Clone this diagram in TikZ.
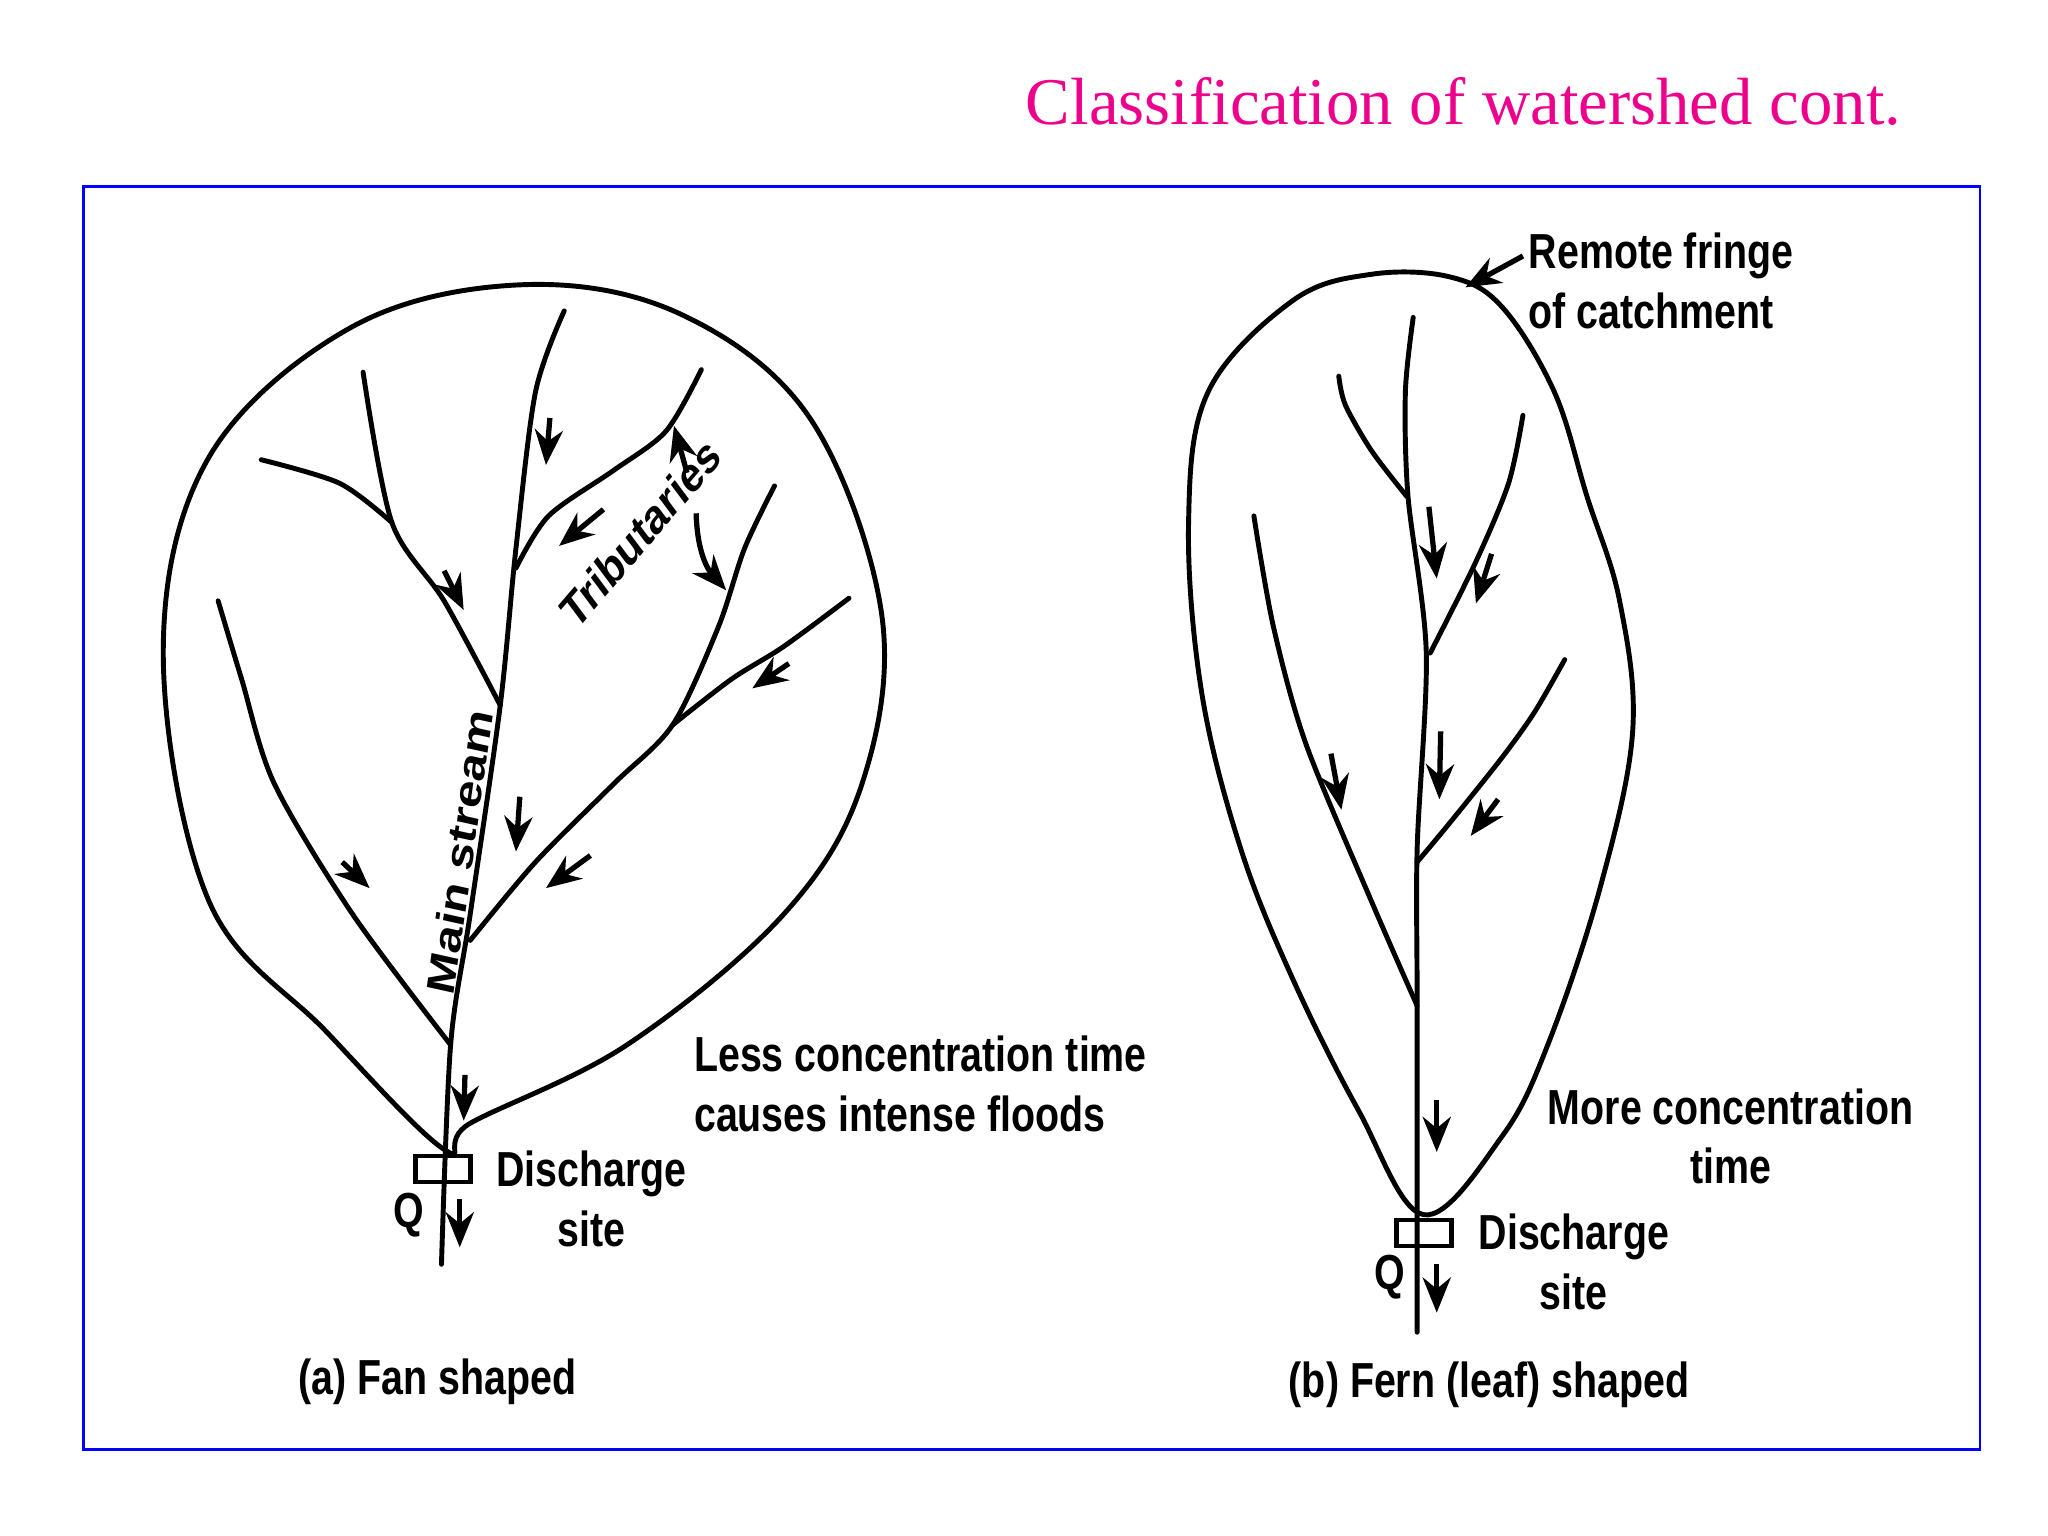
\documentclass[tikz,border=0pt]{standalone}
\usepackage{fontspec}
\setmainfont{Liberation Serif}
\newfontfamily\lblfont{Liberation Sans}
\usetikzlibrary{arrows.meta,positioning}
\tikzset{
  edge/.style={line width=1.4pt, line join=round, line cap=round},
  flow/.style={line width=1.5pt, -{Stealth[length=10pt,width=8pt]}},
  lbl/.style={font=\lblfont\bfseries\fontsize{14}{17}\selectfont, xscale=0.8, inner sep=0pt},
  site/.style={draw, line width=1.4pt, minimum width=0.55cm, minimum height=0.26cm, inner sep=0pt}
}
\begin{document}
\begin{tikzpicture}[x=0.01306cm, y=-0.01306cm]
  \useasboundingbox (0,0) rectangle (1568,1176);
  \node [text=magenta, font=\fontsize{19}{23}\selectfont, anchor=west] (title) at (776,78) {Classification of watershed cont.};
  \draw [blue, line width=0.8pt] (64,143) rectangle (1516,1110);

  % fan shaped
  \draw[edge] plot[smooth cycle, tension=0.6] coordinates {(340,880) (250,790) (160,690) (125,500) (160,350) (270,250) (400,218) (520,240) (620,320) (675,470) (660,600) (600,700) (480,800) (360,860)};
  \draw[edge] plot[smooth] coordinates {(338,968) (345,800) (360,700) (383,540) (395,420) (410,300) (432,238)};
  \draw[edge] plot[smooth] coordinates {(345,800) (270,700) (210,600) (185,520) (167,460)};
  \draw[edge] plot[smooth] coordinates {(383,540) (340,460) (300,400) (278,285)};
  \draw[edge] plot[smooth] coordinates {(300,400) (260,370) (200,352)};
  \draw[edge] plot[smooth] coordinates {(395,435) (420,395) (470,360) (510,330) (537,283)};
  \draw[edge] plot[smooth] coordinates {(360,720) (410,660) (470,600) (515,555) (550,480) (570,420) (593,372)};
  \draw[edge] plot[smooth] coordinates {(515,555) (560,520) (600,495) (650,458)};
  \draw[flow] (421,320) -- (418,356);
  \draw[flow] (340,437) -- (355,467);
  \draw[flow] (462,390) -- (428,418);
  \draw[flow] (604,508) -- (576,527);
  \draw[flow] (398,610) -- (395,652);
  \draw[flow] (452,655) -- (418,680);
  \draw[flow] (262,660) -- (283,680);
  \draw[flow] (356,823) -- (355,858);
  \draw[flow] (352,918) -- (352,955);
  \node[lbl, rotate=80] (main) at (352,652) {Main stream};
  \node[lbl, rotate=43] (trib) at (490,408) {Tributaries};
  \draw[flow] (526,362) -- (516,326);
  \draw[flow] (533,393) to[bend right=20] (556,452);
  \node[site] (siteA) at (339,895) {};
  \node[lbl] (qA) at (313,930) {Q};
  \node[lbl, align=center] (disA) at (453,918) {Discharge\\site};
  \node[lbl, align=left, anchor=west] (lessA) at (531,830) {Less concentration time\\causes intense floods};
  \node[lbl] (capA) at (335,1058) {(a) Fan shaped};

  % fern shaped
  \draw[edge] plot[smooth cycle, tension=0.6] coordinates {(1090,930) (1040,850) (990,750) (950,650) (920,530) (910,400) (925,300) (990,230) (1050,210) (1110,212) (1150,235) (1190,300) (1215,380) (1240,460) (1250,560) (1225,680) (1185,800) (1150,870)};
  \draw[edge] plot[smooth] coordinates {(1085,1020) (1085,770) (1085,650) (1092,500) (1078,380) (1076,300) (1082,243)};
  \draw[edge] plot[smooth] coordinates {(1085,770) (1050,690) (1000,570) (975,480) (960,395)};
  \draw[edge] plot[smooth] coordinates {(1077,380) (1050,345) (1030,310) (1025,288)};
  \draw[edge] plot[smooth] coordinates {(1095,500) (1130,430) (1155,370) (1166,318)};
  \draw[edge] plot[smooth] coordinates {(1085,660) (1110,630) (1150,580) (1175,545) (1198,505)};
  \draw[flow] (1094,388) -- (1100,443);
  \draw[flow] (1142,424) -- (1130,462);
  \draw[flow] (1019,577) -- (1027,620);
  \draw[flow] (1103,560) -- (1102,612);
  \draw[flow] (1147,612) -- (1126,640);
  \draw[flow] (1100,842) -- (1100,882);
  \draw[flow] (1100,968) -- (1100,1005);
  \node[lbl, align=left, anchor=west] (fringe) at (1170,215) {Remote fringe\\of catchment};
  \coordinate (fringeEnd) at (1122,220);
  \draw[flow] (1166,196) -- (fringeEnd);
  \node[site] (siteB) at (1090,944) {};
  \node[lbl] (qB) at (1064,978) {Q};
  \node[lbl, align=center] (disB) at (1205,966) {Discharge\\site};
  \node[lbl, align=center] (moreB) at (1325,870) {More concentration\\time};
  \node[lbl] (capB) at (1140,1060) {(b) Fern (leaf) shaped};
\end{tikzpicture}
\end{document}
